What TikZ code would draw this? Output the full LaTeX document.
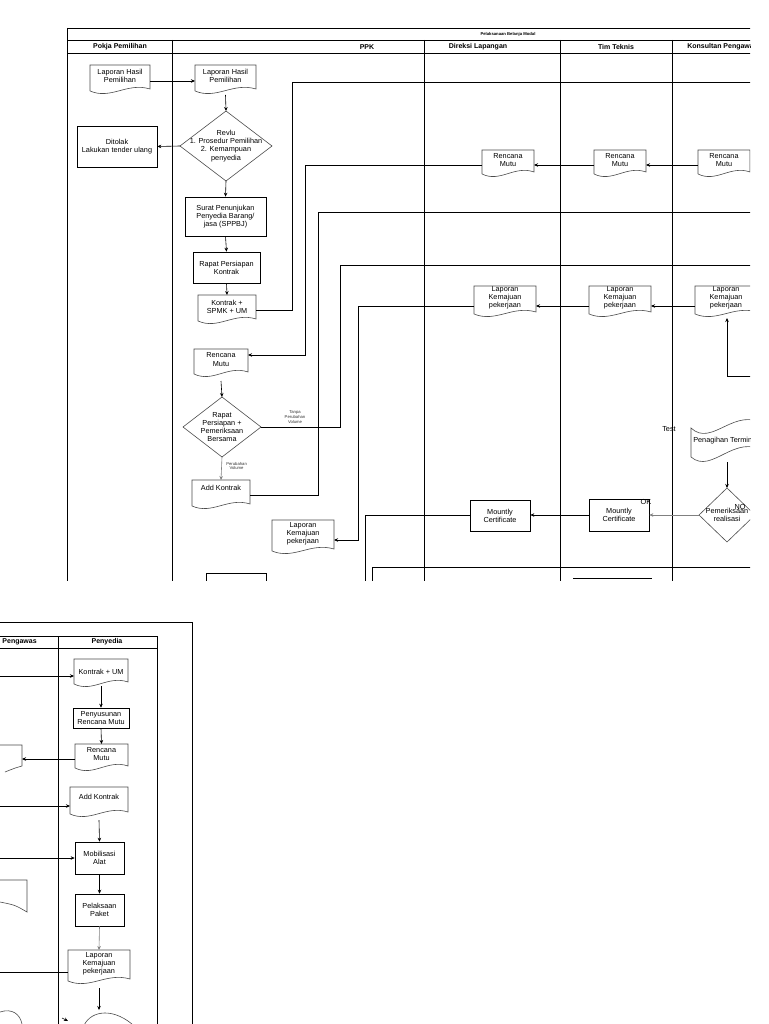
\documentclass[tikz,border=0pt]{standalone}
\usepackage{fontspec}
\setmainfont{Liberation Sans}
\usetikzlibrary{arrows.meta,calc}
\begin{document}
\begin{tikzpicture}[x=1pt,y=-1pt,line width=0.6pt,
  box/.style={draw=none,inner sep=0pt,outer sep=0pt},
  txt/.style={font=\fontsize{7.3}{8.2}\selectfont,align=center,inner sep=0pt},
  hdr/.style={font=\bfseries\fontsize{7}{7.8}\selectfont,inner sep=0pt},
  tiny/.style={font=\fontsize{4.2}{4.8}\selectfont,align=center,inner sep=0pt,text=black!80},
  arr/.style={-{Stealth[length=4pt,width=3.5pt]}},
  garr/.style={-{Stealth[length=4pt,width=3.5pt]},draw=black!50}]
\newcommand\Doc[7][0]{%
 \pgfmathsetmacro\dw{#5-#3}\pgfmathsetmacro\dh{#6-#4}%
 \node[box,minimum width=\dw pt,minimum height=\dh pt] (#2) at ({(#3+#5)/2},{(#4+#6)/2}) {};
 \node[txt] (#2-t) at ({(#3+#5)/2},{(#4+#6)/2-4+#1}) {#7};
 \draw[draw=black!70] (#3,#6-4) -- (#3,#4) -- (#5,#4) -- (#5,#6-6) .. controls ({#3+0.62*\dw},#6-13) and ({#3+0.35*\dw},#6+5) .. (#3,#6-4);}
\newcommand\Rbox[6]{%
 \pgfmathsetmacro\dw{#4-#2}\pgfmathsetmacro\dh{#5-#3}%
 \node[draw,txt,minimum width=\dw pt,minimum height=\dh pt] (#1) at ({(#2+#4)/2},{(#3+#5)/2}) {#6};}
\newcommand\Dia[6]{%
 \node[box,minimum width=#4pt,minimum height=#5pt] (#1) at (#2,#3) {};
 \draw[draw=black!70] (#1.north) -- (#1.east) -- (#1.south) -- (#1.west) -- cycle;
 \node[txt] (#1-t) at (#2,#3) {#6};}
\useasboundingbox (0,0) rectangle (768,1024);
\fill[white] (0,0) rectangle (768,1024);
% ================= TOP PANEL =================
\begin{scope}
\clip (60,20) rectangle (750,580);
\draw (67,28) -- (770,28);
\draw (67,40) -- (770,40);
\draw (67,53) -- (770,53);
\draw (67,28) -- (67,600);
\foreach \x in {172,424,560,672} \draw (\x,40) -- (\x,600);
\node[hdr,font=\bfseries\fontsize{4.2}{5}\selectfont] (title) at (508,34) {Pelaksanaan Belanja Modal};
\node[hdr] (h1) at (120,47) {Pokja Pemilihan};
\node[hdr] (h2) at (367,47) {PPK};
\node[hdr] (h3) at (478,47) {Direksi Lapangan};
\node[hdr] (h4) at (616,47) {Tim Teknis};
\node[hdr,anchor=west] (h5) at (687,47) {Konsultan Pengawas};
% nodes
\Doc{lhp1}{90}{65}{150}{95}{Laporan Hasil\\Pemilihan}
\Doc{lhp2}{195}{65}{256}{95}{Laporan Hasil\\Pemilihan}
\Rbox{tolak}{77}{126}{157}{167}{Ditolak\\Lakukan tender ulang}
\Dia{revlu}{226}{146}{92}{70}{Revlu\\1. Prosedur Pemilihan\\2. Kemampuan\\penyedia}
\Rbox{sppbj}{185}{197}{266}{236}{Surat Penunjukan\\Penyedia Barang/\\jasa (SPPBJ)}
\Rbox{rpk}{193}{252}{260}{283}{Rapat Persiapan\\Kontrak}
\Doc[1]{kspmk}{198}{295}{256}{325}{Kontrak +\\SPMK + UM}
\Doc{rm1}{194}{349}{248}{378}{Rencana\\Mutu}
\Dia{rapat}{222}{427}{78}{60}{Rapat\\Persiapan +\\Pemeriksaan\\Bersama}
\Doc[-3]{add1}{192}{480}{250}{510}{Add Kontrak}
\Doc{lkp1}{272}{520}{334}{555}{Laporan\\Kemajuan\\pekerjaan}
\Doc{rm2}{482}{150}{534}{178}{Rencana\\Mutu}
\Doc{rm3}{594}{150}{646}{178}{Rencana\\Mutu}
\Doc{rm4}{698}{150}{750}{178}{Rencana\\Mutu}
\Doc{lkp2}{474}{286}{536}{318}{Laporan\\Kemajuan\\pekerjaan}
\Doc{lkp3}{589}{286}{651}{318}{Laporan\\Kemajuan\\pekerjaan}
\Doc{lkp4}{695}{286}{757}{318}{Laporan\\Kemajuan\\pekerjaan}
\Rbox{mc1}{470}{500}{530}{531}{Mountly\\Certificate}
\Rbox{mc2}{589}{499}{649}{531}{Mountly\\Certificate}
% Penagihan termin (tape)
\node[box,minimum width=74pt,minimum height=40pt] (tagih) at (728,440) {};
\draw[draw=black!70] (691,428) .. controls (712,448) and (735,405) .. (765,425) -- (765,452)
  .. controls (735,432) and (712,475) .. (691,457) -- cycle;
\node[txt,anchor=west] (tagih-t) at (693,441) {Penagihan Termin};
\Dia{periksa}{727}{515}{56}{54}{Pemeriksaan\\realisasi}
\node[txt] (ok) at (646,502) {OK};
\node[txt] (no) at (740,507) {NO};
\node[txt] (test) at (669,429) {Test};
% partial boxes at bottom
\coordinate (pb1) at (206,573);
\draw (206,590) -- (pb1) -- (266,573) -- (266,590);
\coordinate (pb2) at (573,578);
\draw (pb2) -- (652,578);
% connectors
\draw[arr] (lhp1.east |- 0,81) -- (lhp2.west |- 0,81);
\draw[arr] (lhp2.south) -- (revlu.north);
\draw[arr] (revlu.west) -- (tolak.east);
\draw[arr] (revlu.south) -- (sppbj.north);
\draw[arr] (sppbj.south) -- (rpk.north);
\draw[arr] (rpk.south) -- (kspmk.north);
\coordinate (e82) at (770,82);
\draw (kspmk.east |- 0,310) -- (292,310) -- (292,82) -- (e82);
\draw[arr] (rm2.west |- 0,165) -- (305,165) -- (305,355) -- (rm1.east |- 0,355);
\draw[arr] (rm3.west |- 0,165) -- (rm2.east |- 0,165);
\draw[arr] (rm4.west |- 0,165) -- (rm3.east |- 0,165);
\coordinate (e212) at (770,212);
\draw (add1.east |- 0,495) -- (318,495) -- (318,212) -- (e212);
\coordinate (e265) at (770,265);
\draw (rapat.east) -- (340,427) -- (340,265) -- (e265);
\node[tiny] (tpv) at (295,417) {Tanpa\\Perubahan\\Volume};
\draw[arr] (rm1.south) ++(0,3) -- (rapat.north);
\draw[garr] (rapat.south) -- (add1.north);
\node[tiny,anchor=west] (pv) at (226,466) {Perubahan\\Volume};
\draw[arr] (lkp2.west |- 0,306) -- (358,306) -- (358,540) -- (lkp1.east |- 0,540);
\draw[arr] (lkp3.west |- 0,306) -- (lkp2.east |- 0,306);
\draw[arr] (lkp4.west |- 0,306) -- (lkp3.east |- 0,306);
\coordinate (e376) at (770,376);
\draw[arr] (e376) -- (727,376) -- (727,318);
\coordinate (d515) at (365,590);
\draw (mc1.west |- 0,515) -- (365,515) -- (d515);
\draw[arr] (mc2.west |- 0,515) -- (mc1.east |- 0,515);
\draw[garr] (periksa.west) -- (mc2.east |- 0,515);
\draw[arr] (727,462) -- (periksa.north);
\coordinate (e567) at (770,567);
\draw (372,590) -- (372,567) -- (e567);
\end{scope}
% ================= BOTTOM PANEL =================
\begin{scope}
\clip (0,615) rectangle (200,1024);
\draw (-10,622) -- (192,622) -- (192,1030);
\draw (-10,636) -- (157,636);
\draw (-10,648) -- (157,648);
\draw (58,636) -- (58,1030);
\draw (157,636) -- (157,1030);
\node[hdr,anchor=east] (h6) at (37,642) {Konsultan Pengawas};
\node[hdr] (h7) at (107,642) {Penyedia};
\Doc[2]{kum}{74}{659}{128}{688}{Kontrak + UM}
\Rbox{prm}{73}{708}{129}{728}{Penyusunan\\Rencana Mutu}
\Doc{rm5}{75}{744}{128}{772}{Rencana\\Mutu}
\Doc[-2]{add2}{70}{787}{128}{818}{Add Kontrak}
\Rbox{mob}{75}{842}{124}{874}{Mobilisasi\\Alat}
\Rbox{pel}{75}{894}{124}{926}{Pelaksaan\\Paket}
\Doc{lkp5}{68}{950}{130}{985}{Laporan\\Kemajuan\\pekerjaan}
% partial shapes on left
\coordinate (rmk) at (22,759);
\draw[draw=black!70] (-10,745) -- (22,745) -- (22,766) .. controls (15,768) .. (5,772);
\coordinate (pk) at (27,896);
\draw[draw=black!70] (-10,880) -- (27,880) -- (27,912) .. controls (15,905) .. (0,902);
\coordinate (bt) at (99,1010);
\draw[draw=black!70] (83,1028) .. controls (88,1012) and (110,1006) .. (132,1024);
\draw[draw=black!70] (0,1012) .. controls (12,1008) and (20,1014) .. (22,1024);
\coordinate (s1) at (-10,676);
\coordinate (s2) at (-10,806);
\coordinate (s3) at (-10,858);
\coordinate (s4) at (-10,972);
\coordinate (s5) at (62,1018);
\draw[arr] (s1) -- (kum.west |- 0,676);
\draw[arr] (kum.south) ++(0,-2) -- (prm.north);
\draw[arr] (prm.south) -- (rm5.north);
\draw[arr] (rm5.west |- 0,759) -- (rmk);
\draw[arr] (s2) -- (add2.west |- 0,806);
\draw[arr] (add2.south) ++(0,2) -- (mob.north);
\draw[arr] (s3) -- (mob.west |- 0,858);
\draw[arr] (mob.south) -- (pel.north);
\draw[garr] (pel.south) -- (lkp5.north);
\draw (s4) -- (lkp5.west |- 0,972);
\draw[arr] (lkp5.south) ++(0,3) -- (bt);
\draw[arr] (s5) -- (68,1021);
\end{scope}
\end{tikzpicture}
\end{document}
